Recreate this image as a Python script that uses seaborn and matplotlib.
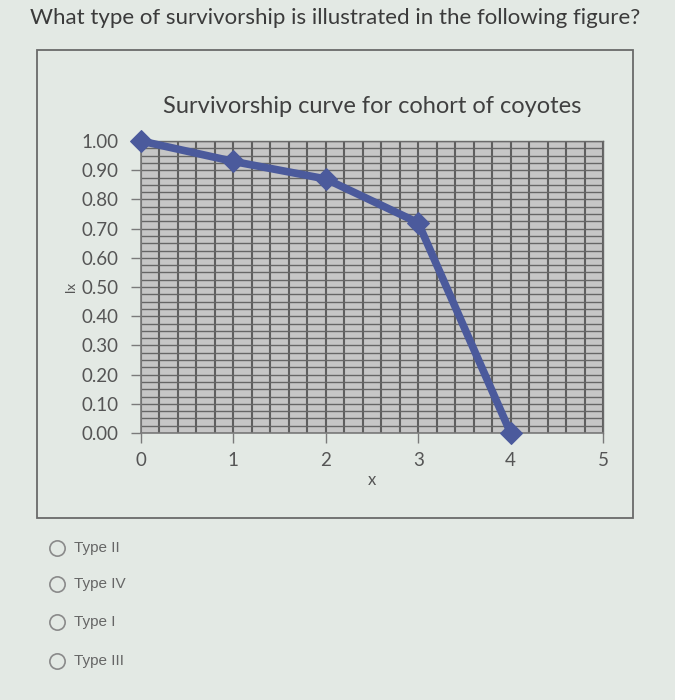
import matplotlib
matplotlib.use("Agg")
import matplotlib.pyplot as plt
import seaborn as sns
import pandas as pd
import numpy as np
from matplotlib.lines import Line2D
from matplotlib.patches import Rectangle
from matplotlib.ticker import MultipleLocator

# ---- data ----
question = "What type of survivorship is illustrated in the following figure?"
chart_title = "Survivorship curve for cohort of coyotes"
ages = [0, 1, 2, 3, 4]
lx = [1.00, 0.93, 0.87, 0.72, 0.00]
x_ticks = [0, 1, 2, 3, 4, 5]
y_ticks = [0.00, 0.10, 0.20, 0.30, 0.40, 0.50, 0.60, 0.70, 0.80, 0.90, 1.00]
options = ["Type II", "Type IV", "Type I", "Type III"]

sns.set_theme(style="white")
plt.rcParams['font.family'] = ['Lato', 'DejaVu Sans']

W, H = 675, 700
fig = plt.figure(figsize=(W / 100, H / 100), dpi=100)
bg = "#e3e9e4"
fig.patch.set_facecolor(bg)

def fx(px):
    return px / W

def fy(py):
    return 1 - py / H

# question text
fig.text(fx(30), fy(18), question, fontsize=16, color="#3b3b3b",
         ha="left", va="center", family=["Lato", "DejaVu Sans"])

# chart frame
fig.add_artist(Rectangle((fx(37), fy(518)), fx(633) - fx(37), fy(50) - fy(518),
                         transform=fig.transFigure, facecolor="none",
                         edgecolor="#6a6a6a", linewidth=1.3))

# axes
ax = fig.add_axes([fx(141), fy(433), fx(603) - fx(141), fy(141) - fy(433)])
ax.set_facecolor("#c6c6c6")

df = pd.DataFrame({"x": ages, "lx": lx})
sns.lineplot(data=df, x="x", y="lx", ax=ax, color="#4b5a9c", linewidth=5.5,
             marker="D", markersize=11, markeredgecolor="#4b5a9c",
             clip_on=False, zorder=5)

ax.set_xlim(0, 5)
ax.set_ylim(0, 1.0)
ax.set_xticks(x_ticks)
ax.set_xticklabels([str(t) for t in x_ticks])
ax.set_yticks(y_ticks)
ax.set_yticklabels([f"{t:.2f}" for t in y_ticks])
ax.xaxis.set_minor_locator(MultipleLocator(0.2))
ax.yaxis.set_minor_locator(MultipleLocator(0.025))
ax.xaxis.grid(True, which="both", color="#5f5f5f", linewidth=1.5)
ax.yaxis.grid(True, which="both", color="#666666", linewidth=1.0)
ax.set_axisbelow(True)

for s in ["top", "right"]:
    ax.spines[s].set_visible(True)
    ax.spines[s].set_color("#6a6a6a")
    ax.spines[s].set_linewidth(1.0)
for s in ["left", "bottom"]:
    ax.spines[s].set_color("#7a7a7a")
    ax.spines[s].set_linewidth(1.2)

ax.tick_params(axis="both", which="major", direction="out", length=7,
               width=1, color="#7a7a7a", labelcolor="#555555", labelsize=13.5)
ax.tick_params(axis="x", which="major", pad=7, bottom=True)
ax.tick_params(axis="y", which="major", pad=9, left=True)
ax.tick_params(which="minor", length=0)

ax.set_xlabel("x", fontsize=12, color="#555555", labelpad=2)
ax.set_ylabel("lx", fontsize=10, color="#555555", labelpad=3)

ax.set_title(chart_title, fontsize=17, color="#404040", pad=20)

# answer options
opt_y = [548, 584, 622, 661]
for label, py in zip(options, opt_y):
    fig.add_artist(Line2D([fx(57)], [fy(py)], marker="o", markersize=11,
                          markerfacecolor="none", markeredgecolor="#8a8a8a",
                          markeredgewidth=1.2, transform=fig.transFigure))
    fig.text(fx(74), fy(py), label, fontsize=11, color="#666666",
             ha="left", va="center", family=["Liberation Sans", "DejaVu Sans"])

fig.savefig("out.png", dpi=100, facecolor=fig.get_facecolor())
